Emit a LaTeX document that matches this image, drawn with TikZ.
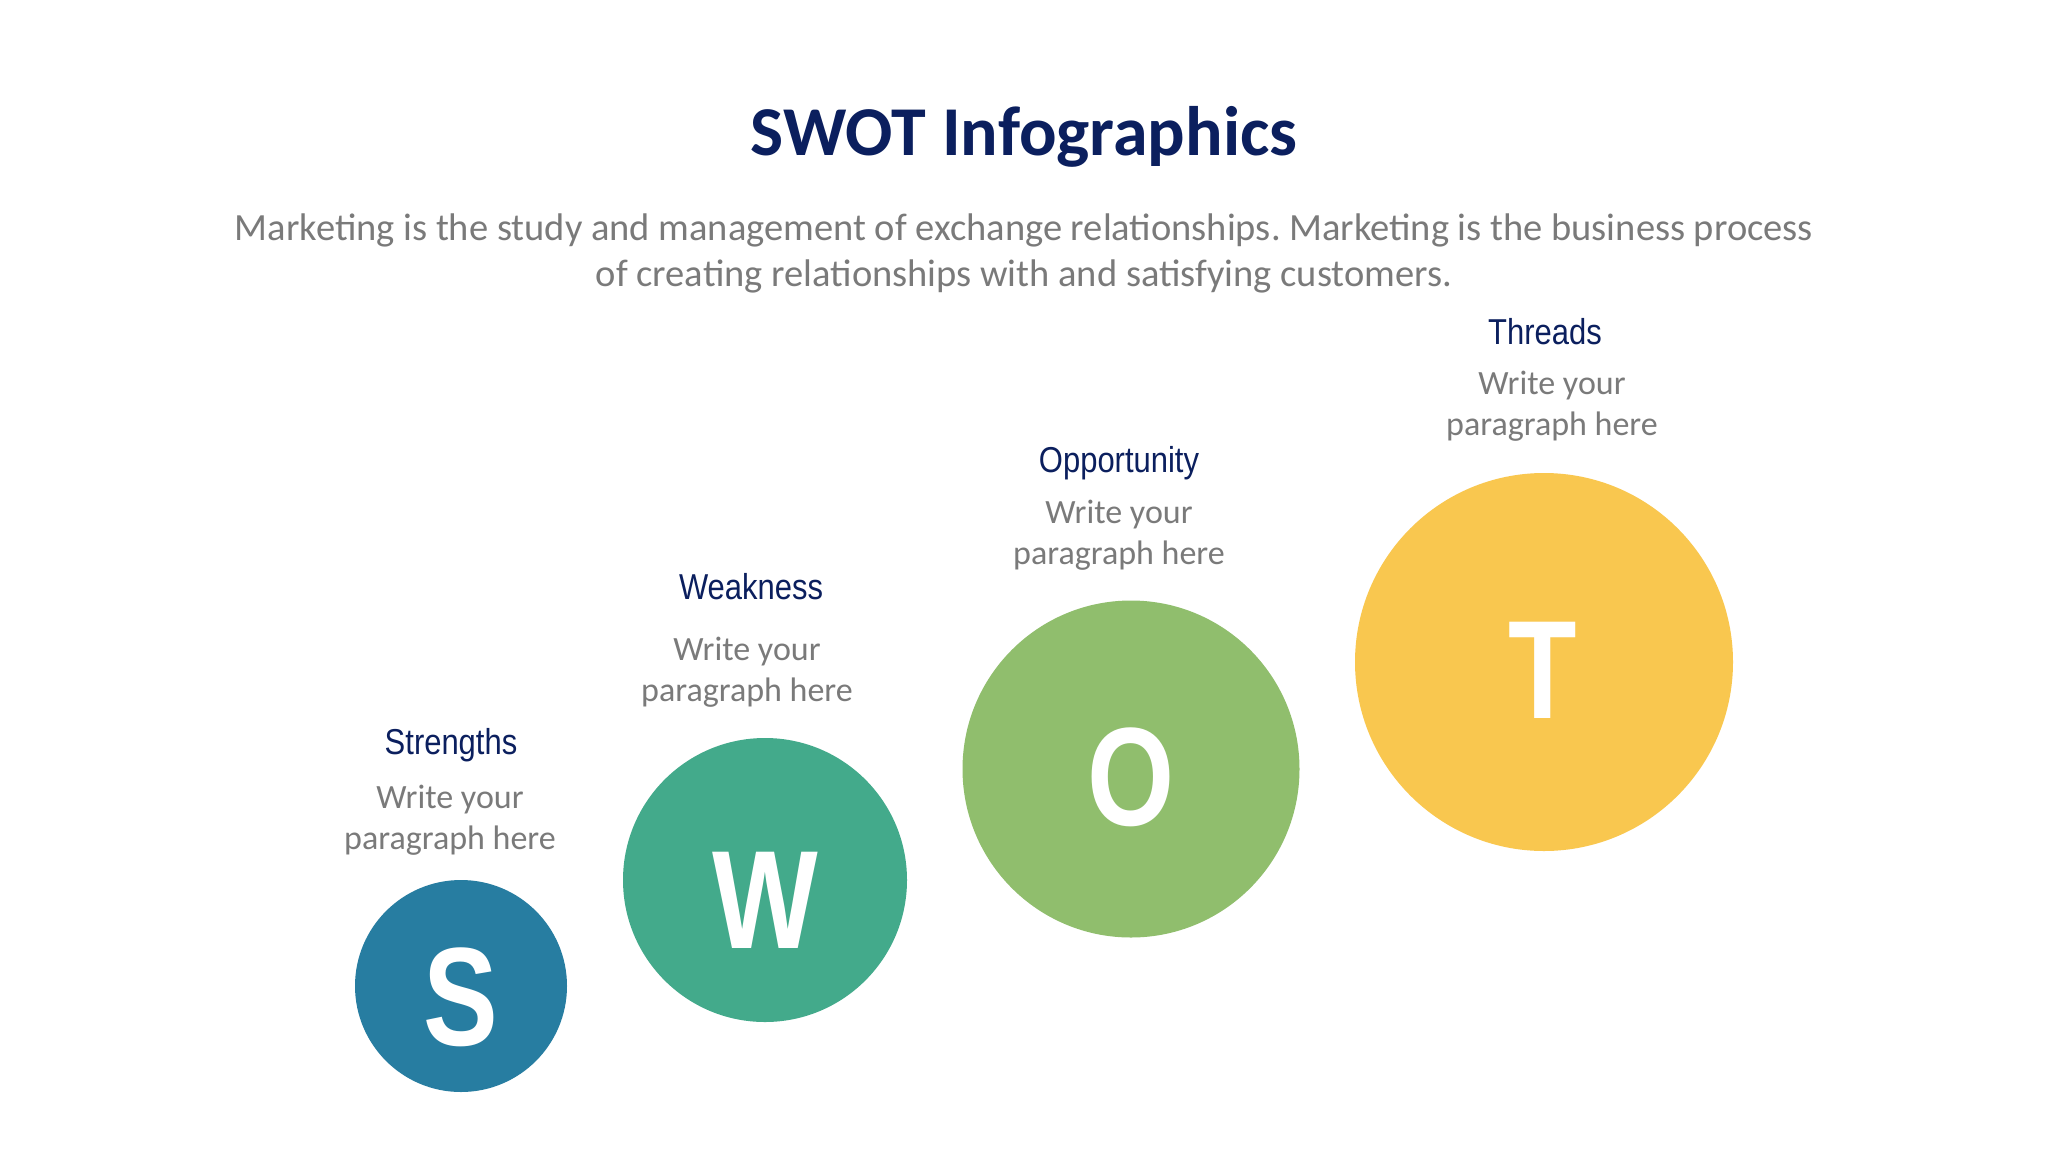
\documentclass[tikz,border=0pt]{standalone}
\usepackage{fontspec}
\setmainfont{Carlito}
\newfontfamily\headfont[FakeStretch=0.86]{Liberation Sans}
\newfontfamily\letterfont[FakeStretch=0.8]{Liberation Sans}
\definecolor{cS}{HTML}{277DA1}
\definecolor{cW}{HTML}{43AA8B}
\definecolor{cO}{HTML}{90BE6D}
\definecolor{cT}{HTML}{F9C74F}
\definecolor{navy}{HTML}{0B1F5E}
\definecolor{txtgray}{HTML}{7A7A7A}
\frenchspacing
\tikzset{
  disc/.style={circle, inner sep=0pt, draw=none},
  letter/.style={anchor=base, text=white, inner sep=0pt, font=\letterfont\fontsize{140}{140}\selectfont\bfseries},
  headtxt/.style={anchor=base, text=navy, inner sep=0pt, font=\headfont\fontsize{36}{40}\selectfont},
  bodytxt/.style={anchor=base, text=txtgray, inner sep=0pt, font=\fontsize{34}{38}\selectfont},
  subtxt/.style={anchor=base, text=txtgray, inner sep=0pt, font=\fontsize{38.5}{44}\selectfont},
}
\begin{document}
\begin{tikzpicture}[x=1pt,y=-1pt]
\useasboundingbox[fill=white] (0,0) rectangle (2048,1152);
% title
\node[anchor=base, text=navy, inner sep=0pt, font=\fontsize{70}{80}\selectfont\bfseries] (title) at (1024,155) {SWOT Infographics};
\node[subtxt] (sub1) at (1024,240) {Marketing is the study and management of exchange relationships. Marketing is the business process};
\node[subtxt] (sub2) at (1024,286) {of creating relationships with and satisfying customers.};
% circles
\node[disc, fill=cS, minimum size=212pt] (circS) at (461,986) {};
\node[disc, fill=cW, minimum size=284pt] (circW) at (765,880) {};
\node[disc, fill=cO, minimum size=337pt] (circO) at (1131,769) {};
\node[disc, fill=cT, minimum size=378pt] (circT) at (1544,662) {};
% letters
\node[letter] (lS) at (461,1045) {S};
\node[letter] (lW) at (765,948) {W};
\node[letter] (lO) at (1131,825) {O};
\node[letter] (lT) at (1543,718) {T};
% headings
\node[headtxt] (hS) at (451,754) {Strengths};
\node[headtxt] (hW) at (751,599) {Weakness};
\node[headtxt] (hO) at (1119,472) {Opportunity};
\node[headtxt] (hT) at (1545,344) {Threads};
% body
\node[bodytxt] (bS1) at (450,808) {Write your};
\node[bodytxt] (bS2) at (450,849) {paragraph here};
\node[bodytxt] (bW1) at (747,660) {Write your};
\node[bodytxt] (bW2) at (747,701) {paragraph here};
\node[bodytxt] (bO1) at (1119,523) {Write your};
\node[bodytxt] (bO2) at (1119,564) {paragraph here};
\node[bodytxt] (bT1) at (1552,394) {Write your};
\node[bodytxt] (bT2) at (1552,435) {paragraph here};
\end{tikzpicture}
\end{document}
